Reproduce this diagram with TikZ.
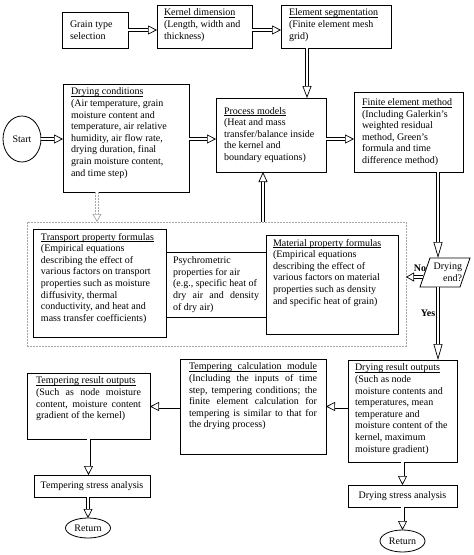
\documentclass[tikz,border=0pt]{standalone}
\usepackage{fontspec}
\setmainfont{Liberation Serif}
\usetikzlibrary{arrows.meta,shapes.geometric}
\newsavebox\titlbox
\newcommand\titl[1]{\leavevmode\sbox\titlbox{#1}\rlap{\rule[-1.7pt]{\wd\titlbox}{0.5pt}}\usebox\titlbox}
\newcommand\sq{{\char"27}}
\newcommand\tbox[8]{%
  \node[boxst, anchor=north west, inner xsep=#6pt] (#1) at (#2,#3)
  {\begin{minipage}[t][\dimexpr#5pt-8pt\relax][#7]{\dimexpr#4pt-#6pt-#6pt\relax}#8\end{minipage}};}
\newcommand\darr[4][]{%
  \draw[arrtip=#2,#1] #3 -- #4;
  \draw[arrshaft=#2,#1] #3 -- #4;}
\tikzset{
  boxst/.style={draw, line width=0.8pt, inner ysep=4pt, outer sep=0pt,
    font=\fontsize{10}{11.6}\selectfont},
  ellst/.style={draw, ellipse, line width=0.8pt, inner sep=0pt, outer sep=0pt,
    font=\fontsize{10}{12}\selectfont},
  propst/.style={draw=gray!70, dash pattern=on 2pt off 1pt, line width=0.7pt,
    inner sep=0pt, outer sep=0pt},
  lblst/.style={inner sep=0pt, font=\bfseries\fontsize{10}{12}\selectfont},
  arrtip/.style={line width=0.7pt, shorten <=0.4pt,
    -{Triangle[open, length=#1, width=9pt]}},
  arrtip/.default=9pt,
  arrshaft/.style={double, double distance=2.6pt, line width=0.7pt,
    shorten <=0.4pt, shorten >=#1-0.4pt},
  arrshaft/.default=9pt,
  dashedarr/.style={draw=gray!70, dash pattern=on 2pt off 1pt},
}
\begin{document}
\begin{tikzpicture}[x=1pt,y=-1pt]
\useasboundingbox (0,0) rectangle (474,555);
\fill[white] (0,0) rectangle (474,555);

% top row
\tbox{grain}{62}{12}{66}{36}{8}{c}{Grain type\\selection}
\tbox{kernel}{157}{5}{95}{43}{7}{t}{\titl{Kernel dimension}\\(Length, width and\\thickness)}
\tbox{elem}{281}{5}{110}{43}{8}{t}{\titl{Element segmentation}\\(Finite element mesh\\grid)}

% second row
\node[ellst, minimum width=38pt, minimum height=46pt] (start) at (22,139) {Start};
\tbox{drying}{63}{84}{126}{108}{8}{t}{\titl{Drying conditions}\\(Air temperature, grain\\moisture content and\\temperature, air relative\\humidity, air flow rate,\\drying duration, final\\grain moisture content,\\and time step)}
\tbox{process}{216}{98}{110}{74}{8}{c}{\titl{Process models}\\(Heat and mass\\transfer/balance inside\\the kernel and\\boundary equations)}
\tbox{fem}{354}{92}{109}{80}{8}{c}{\titl{Finite element method}\\(Including Galerkin\sq s\\weighted residual\\method, Green\sq s\\formula and time\\difference method)}

% property group
\node[propst, anchor=north west, minimum width=379pt, minimum height=124pt] (propbox) at (27,222) {};
\tbox{transport}{33}{229}{133}{108}{8}{t}{\titl{Transport property formulas}\\(Empirical equations\\describing the effect of\\various factors on transport\\properties such as moisture\\diffusivity, thermal\\conductivity, and heat and\\mass transfer coefficients)}
\tbox{psych}{166}{252}{100}{65}{7}{c}{Psychrometric\\properties for air\\(e.g., specific heat of\\dry air and density\linebreak of dry air)}
\tbox{material}{266}{235}{132}{99}{7}{t}{\titl{Material property formulas}\\(Empirical equations\\describing the effect of\\various factors on material\\properties such as density\\and specific heat of grain)}

% decision
\node[inner sep=0pt, outer sep=0pt, minimum width=40pt, minimum height=29pt,
  text width=34pt, align=right, font=\fontsize{10}{12}\selectfont] (dec) at (445,272.5) {Drying\\end?};
\draw[line width=0.8pt] ([xshift=5pt]dec.north west) -- ([xshift=5pt]dec.north east)
  -- ([xshift=-5pt]dec.south east) -- ([xshift=-5pt]dec.south west) -- cycle;
\node[lblst] (nolbl) at (420,268) {No};
\node[lblst] (yeslbl) at (428,313) {Yes};

% bottom part
\tbox{dryres}{348}{360}{109}{102}{7}{t}{\titl{Drying result outputs}\\(Such as node\\moisture contents and\\temperatures, mean\\temperature and\\moisture content of the\\kernel, maximum\\moisture gradient)}
\tbox{tcalc}{180}{359}{146}{95}{9}{t}{\titl{\makebox[\linewidth][s]{Tempering calculation module}}\\(Including the inputs of time\linebreak step, tempering conditions; the\linebreak finite element calculation for\linebreak tempering is similar to that for\linebreak the drying process)}
\tbox{tres}{27}{373}{123}{66}{9}{t}{\titl{Tempering result outputs}\\(Such as node moisture\linebreak content, moisture content\linebreak gradient of the kernel)}
\tbox{tstress}{34}{475}{116}{22}{4}{c}{\centering Tempering stress analysis}
\tbox{dstress}{348}{485}{109}{22}{4}{c}{\centering Drying stress analysis}
\node[ellst, minimum width=45pt, minimum height=20pt] (ret1) at (88,528) {Return};
\node[ellst, minimum width=45pt, minimum height=22pt] (ret2) at (402.5,541) {Return};

% connectors
\darr{9pt}{(grain.east)}{(grain.east -| kernel.west)}
\darr{9pt}{(kernel.east |- grain.east)}{(elem.west |- grain.east)}
\darr{12pt}{([xshift=-29pt]elem.south)}{([xshift=36pt]process.north)}
\darr{9pt}{(start.east)}{(start.east -| drying.west)}
\darr{9pt}{(drying.east |- start.east)}{(process.west |- start.east)}
\darr{9pt}{(process.east |- start.east)}{(fem.west |- start.east)}
\darr[dashedarr]{8pt}{([xshift=-29pt]drying.south)}{([xshift=-119.5pt]propbox.north)}
\darr{10pt}{([xshift=46.5pt]propbox.north)}{([xshift=-8pt]process.south)}
\darr{16pt}{([xshift=29.5pt]fem.south)}{([xshift=-7pt]dec.north)}
\darr{8pt}{([xshift=-1.6pt,yshift=-4.5pt]dec.west)}{([yshift=7pt]propbox.east)}
\darr{16pt}{([xshift=-7pt]dec.south)}{([xshift=35.5pt]dryres.north)}
\darr{9pt}{(dryres.west |- tcalc.west)}{(tcalc.east)}
\darr{9pt}{(tcalc.west)}{(tcalc.west -| tres.east)}
\darr{9pt}{(tres.south)}{(tres.south |- tstress.north)}
\darr{9pt}{(ret1.north |- tstress.south)}{(ret1.north)}
\darr{9pt}{(dryres.south)}{(dstress.north)}
\darr{9pt}{(dstress.south)}{(ret2.north)}
\end{tikzpicture}
\end{document}
